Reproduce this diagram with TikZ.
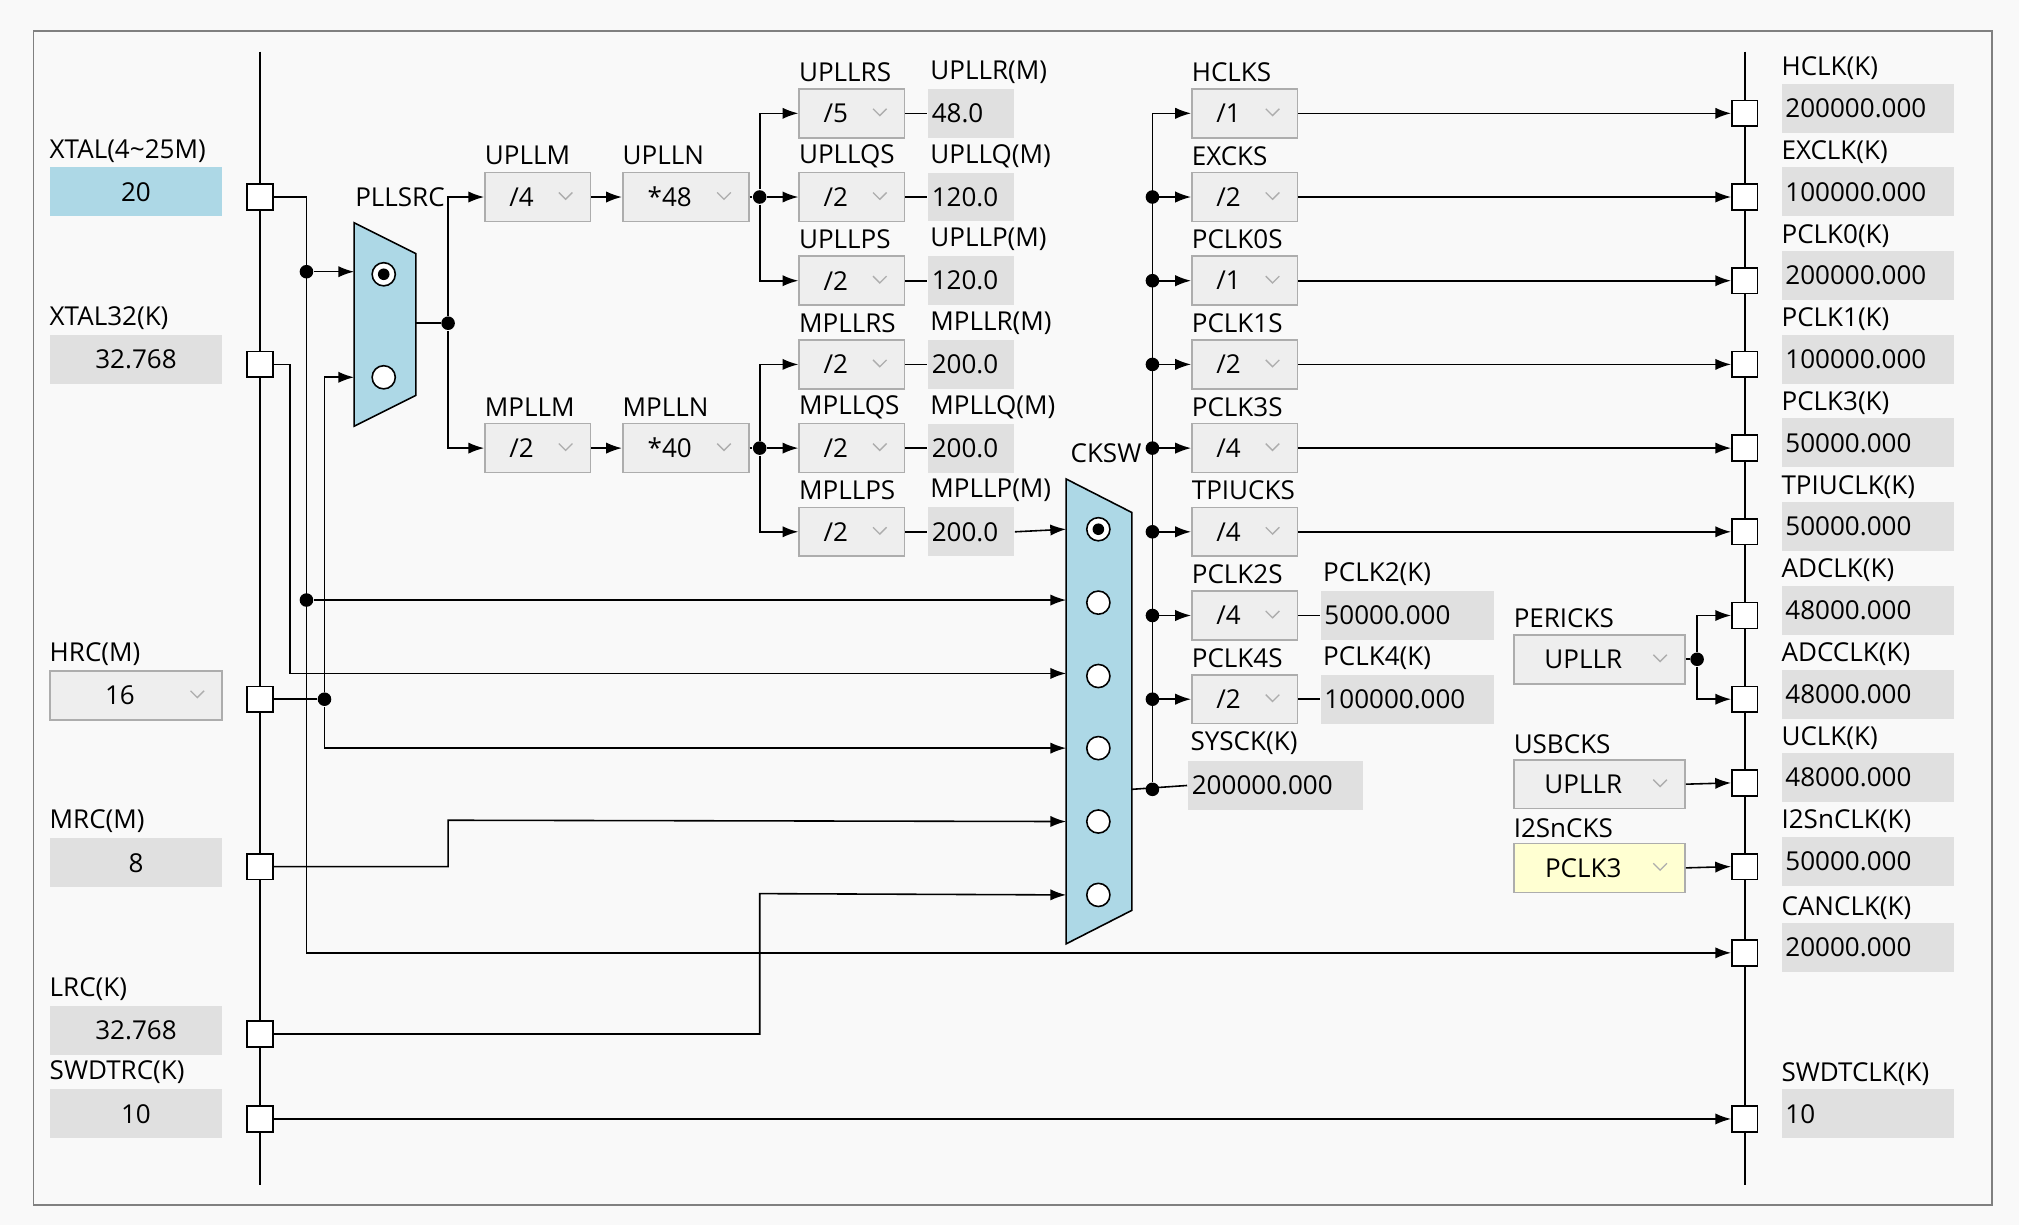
\documentclass[tikz,border=0pt]{standalone}
\usepackage{fontspec}
\setmainfont{Open Sans}
\usetikzlibrary{arrows.meta,positioning}
\definecolor{bggray}{RGB}{249,249,249}
\definecolor{fldgray}{RGB}{224,224,224}
\definecolor{cmbgray}{RGB}{238,238,238}
\definecolor{cmbline}{RGB}{173,173,173}
\definecolor{xblue}{RGB}{173,216,230}
\definecolor{cyel}{RGB}{255,255,210}
\begin{document}
\begin{tikzpicture}[x=0.02cm,y=-0.02cm, line width=0.7pt,
  font=\fontsize{11.5}{13}\selectfont,
  >={Latex[length=7pt,width=5pt]},
  lbl/.style={anchor=west, inner sep=0pt},
  field/.style={fill=fldgray, minimum width=2.68cm, minimum height=0.76cm, inner sep=0pt},
  lfield/.style={fill=fldgray, minimum height=0.76cm, inner xsep=0.06cm, inner ysep=0pt, text width=#1, align=left},
  combo/.style={draw=cmbline, fill=cmbgray, minimum width=#1, minimum height=0.76cm, inner sep=0pt,
    execute at end node={\hspace{0.5cm}},
    path picture={\draw[line width=0.6pt] ([xshift=-14pt,yshift=2pt]path picture bounding box.east) -- ++(3pt,-3pt) -- ++(3pt,3pt);}},
  sq/.style={draw, fill=white, minimum size=0.4cm, inner sep=0pt},
  dot/.style={circle, fill, inner sep=0pt, minimum size=6pt},
  radio/.style={circle, draw, fill=white, inner sep=0pt, minimum size=0.36cm},
  mux/.style={draw, fill=xblue}]
\useasboundingbox (0,0) rectangle (1568,951);
\fill[bggray] (0,0) rectangle (1568,951);
\draw[gray] (26,24) rectangle (1547,936);
% buses
\draw (202,40) -- (202,920);
\draw (1355,40) -- (1355,920);

% left inputs
\node[lbl] at (38,117) {XTAL(4\textasciitilde25M)};
\node[field, fill=xblue, anchor=west] (xtal) at (38,149) {20};
\node[lbl] at (38,247) {XTAL32(K)};
\node[field, anchor=west] (xtal32) at (38,279) {32.768};
\node[lbl] at (38,508) {HRC(M)};
\node[combo=2.68cm, anchor=west] (hrc) at (38,540) {16};
\node[lbl] at (38,638) {MRC(M)};
\node[field, anchor=west] (mrc) at (38,670) {8};
\node[lbl] at (38,768) {LRC(K)};
\node[field, anchor=west] (lrc) at (38,800) {32.768};
\node[lbl] at (38,833) {SWDTRC(K)};
\node[field, anchor=west] (swdtrc) at (38,865) {10};
\foreach \y/\n in {153/sxtal,283/sx32,543/shrc,673/smrc,803/slrc,869/sswd}
  \node[sq] (\n) at (202,\y) {};

% right outputs
\foreach \y/\n/\v [count=\i] in {88/HCLK(K)/200000.000, 153/EXCLK(K)/100000.000,
    218/PCLK0(K)/200000.000, 283/PCLK1(K)/100000.000, 348/PCLK3(K)/50000.000,
    413/TPIUCLK(K)/50000.000, 478/ADCLK(K)/48000.000, 543/ADCCLK(K)/48000.000,
    608/UCLK(K)/48000.000, 673/I2SnCLK(K)/50000.000, 740/CANCLK(K)/20000.000,
    869/SWDTCLK(K)/10} {
  \node[sq] (r\i) at (1355,\y) {};
  \node[lbl] at (1383,\y-35) {\n};
  \node[lfield=2.56cm, anchor=west] at (1383,\y-4) {\v};
}

% PLLSRC mux
\draw[mux] (275,173) -- (323,197) -- (323,307) -- (275,331) -- cycle;
\node[radio] (pa) at (298,213) {};
\fill (pa) circle (4.5);
\node[radio] (pb) at (298,293) {};
\node[anchor=east, inner sep=0pt] at (346,153) {PLLSRC};
\coordinate (pin1) at (275,211);
\coordinate (pin2) at (275,293);
\coordinate (pout) at (323,251);
\node[dot] (pd) at (348,251) {};

% PLL dividers
\node[lbl] at (376,121) {UPLLM};
\node[combo=1.64cm, anchor=west] (upllm) at (376,153) {/4};
\node[lbl] at (483,121) {UPLLN};
\node[combo=1.96cm, anchor=west] (uplln) at (483,153) {*48};
\node[lbl] at (376,316) {MPLLM};
\node[combo=1.64cm, anchor=west] (mpllm) at (376,348) {/2};
\node[lbl] at (483,316) {MPLLN};
\node[combo=1.96cm, anchor=west] (mplln) at (483,348) {*40};
\draw (pout) -- (pd);
\draw[->] (pd) |- (upllm.west);
\draw[->] (pd) |- (mpllm.west);
\draw[->] (upllm.east) -- (uplln.west);
\draw[->] (mpllm.east) -- (mplln.west);

\foreach \y/\n/\d/\m/\v/\k in {88/UPLLRS/5/UPLLR(M)/48.0/ur, 153/UPLLQS/2/UPLLQ(M)/120.0/uq,
    218/UPLLPS/2/UPLLP(M)/120.0/up, 283/MPLLRS/2/MPLLR(M)/200.0/mr,
    348/MPLLQS/2/MPLLQ(M)/200.0/mq, 413/MPLLPS/2/MPLLP(M)/200.0/mp} {
  \node[lbl] at (620,\y-32) {\n};
  \node[combo=1.64cm, anchor=west] (\k) at (620,\y) {/\d};
  \node[lbl] at (722,\y-32) {\m};
  \node[lfield=1.22cm, anchor=west] (\k v) at (720,\y) {\v};
  \draw (\k.east) -- (\k v.west);
}
\node[dot] (ud) at (590,153) {};
\node[dot] (md) at (590,348) {};
\draw (uplln.east) -- (ud);
\draw (mplln.east) -- (md);
\draw[->] (ud) |- (ur.west);
\draw[->] (ud) -- (uq.west);
\draw[->] (ud) |- (up.west);
\draw[->] (md) |- (mr.west);
\draw[->] (md) -- (mq.west);
\draw[->] (md) |- (mp.west);

% CKSW mux
\draw[mux] (828,372) -- (879,398) -- (879,707) -- (828,733) -- cycle;
\node[anchor=east, inner sep=0pt] at (887,352) {CKSW};
\foreach \y [count=\i] in {411,468,525,581,638,695} {
  \node[radio] (c\i) at (853,\y) {};
  \coordinate (cin\i) at (828,\y);
}
\fill (c1) circle (4.5);
\draw[->] (mpv.east) -- (cin1);

% sources into muxes
\node[dot] (xd1) at (238,211) {};
\node[dot] (xd2) at (238,466) {};
\draw[->] (sxtal.east) -| (238,740) -- (r11.west);
\draw[->] (xd1) -- (pin1);
\draw[->] (xd2) -- (cin2 |- xd2);
\draw[->] (sx32.east) -| (225,523) -- (cin3 |- 0,523);
\node[dot] (hd) at (252,543) {};
\draw (shrc.east) -- (hd);
\draw[->] (hd) |- (pin2);
\draw[->] (hd) |- (cin4);
\draw[->] (smrc.east) -| (348,637) -- (cin5);
\draw[->] (slrc.east) -| (590,694) -- (cin6);
\draw[->] (sswd.east) -- (r12.west);

% system clock bus
\node[dot] (sd) at (895,613) {};
\node[lbl] at (924,577) {SYSCK(K)};
\node[lfield=2.6cm, anchor=west] (sysck) at (922,610) {200000.000};
\draw (879,613) -- (sysck.west);
\foreach \y/\n/\d [count=\i] in {88/HCLKS/1, 153/EXCKS/2, 218/PCLK0S/1, 283/PCLK1S/2,
    348/PCLK3S/4, 413/TPIUCKS/4, 478/PCLK2S/4, 543/PCLK4S/2} {
  \node[lbl] at (925,\y-32) {\n};
  \node[combo=1.64cm, anchor=west] (s\i) at (925,\y) {/\d};
}
\draw[->] (sd) |- (s1.west);
\foreach \i in {2,...,8} {
  \node[dot] at (s\i.west -| sd) {};
  \draw[->] (s\i.west -| sd) -- (s\i.west);
}
\foreach \i in {1,...,6}
  \draw[->] (s\i.east) -- (r\i.west);
\node[lbl] at (1027,446) {PCLK2(K)};
\node[lfield=2.58cm, anchor=west] (p2) at (1025,478) {50000.000};
\node[lbl] at (1027,511) {PCLK4(K)};
\node[lfield=2.58cm, anchor=west] (p4) at (1025,543) {100000.000};
\draw (s7.east) -- (p2.west);
\draw (s8.east) -- (p4.west);

% peripheral selects
\node[lbl] at (1175,480) {PERICKS};
\node[combo=2.66cm, anchor=west] (peri) at (1175,512) {UPLLR};
\node[dot] (pdd) at (1318,512) {};
\draw (peri.east) -- (pdd);
\draw[->] (pdd) |- (r7.west);
\draw[->] (pdd) |- (r8.west);
\node[lbl] at (1175,578) {USBCKS};
\node[combo=2.66cm, anchor=west] (usb) at (1175,609) {UPLLR};
\draw[->] (usb.east) -- (r9.west);
\node[lbl] at (1175,643) {I2SnCKS};
\node[combo=2.66cm, fill=cyel, anchor=west] (i2s) at (1175,674) {PCLK3};
\draw[->] (i2s.east) -- (r10.west);
\end{tikzpicture}
\end{document}
